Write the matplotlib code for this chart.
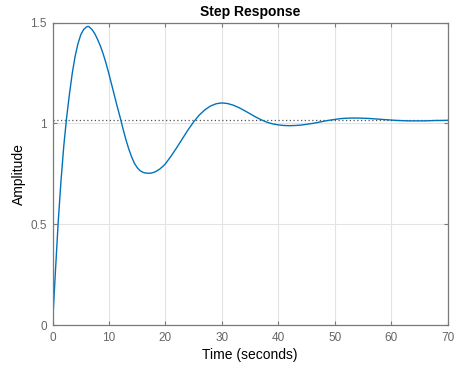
#! /usr/bin/env python3

"""Step response plot, MATLAB look"""

import matplotlib
matplotlib.use("Agg")
import matplotlib.pyplot as plt

time_s = [0, 0.5, 1, 1.5, 2, 2.5, 3, 3.5, 4, 4.5, 5, 5.5, 6, 6.3, 6.5, 7, 7.5, 8, 8.5, 9,
          9.5, 10, 10.5, 11, 11.5, 12, 12.5, 13, 13.5, 14, 14.5, 15, 15.5, 16, 16.5, 17,
          17.5, 18, 18.5, 19, 19.5, 20, 21, 22, 23, 24, 25, 26, 27, 28, 29,
          30, 31, 32, 33, 34, 35, 36, 37, 38, 39, 40, 41, 42, 43, 44, 45, 46, 47, 48, 49,
          50, 51, 52, 53, 54, 55, 56, 57, 58, 59, 60, 61, 62, 63, 64, 65, 66, 67, 68, 69, 70]
amplitude = [0, 0.258, 0.508, 0.715, 0.89, 1.03, 1.146, 1.25, 1.333, 1.395, 1.44, 1.466,
             1.479, 1.482, 1.479, 1.466, 1.445, 1.416, 1.383, 1.343, 1.297, 1.245, 1.19,
             1.135, 1.08, 1.028, 0.972, 0.92, 0.874, 0.835, 0.803, 0.781, 0.766, 0.758,
             0.754, 0.753, 0.754, 0.758, 0.765, 0.774, 0.786, 0.80, 0.838, 0.88, 0.924,
             0.968, 1.008, 1.042, 1.068, 1.087, 1.098, 1.102, 1.099, 1.091, 1.079, 1.064,
             1.048, 1.032, 1.018, 1.006, 0.998, 0.993, 0.99, 0.989, 0.99, 0.992, 0.996,
             1.0, 1.005, 1.011, 1.016, 1.02, 1.024, 1.026, 1.027, 1.027, 1.026, 1.025,
             1.023, 1.021, 1.019, 1.017, 1.015, 1.014, 1.013, 1.013, 1.013, 1.013, 1.014,
             1.015, 1.015, 1.016]
steady_state = 1.017

x_ticks = [0, 10, 20, 30, 40, 50, 60, 70]
y_ticks = [0, 0.5, 1, 1.5]
y_tick_labels = ["0", "0.5", "1", "1.5"]

plt.rcParams["font.family"] = ["Liberation Sans", "DejaVu Sans"]

fig = plt.figure(figsize=(4.74, 3.67), dpi=100)
ax = fig.add_axes([0.1108, 0.1144, 0.8337, 0.8237])

# grid behind everything
ax.grid(True, color="#e3e3e3", linewidth=0.8)
ax.set_axisbelow(True)

# steady-state value and the response itself
ax.plot([x_ticks[0], x_ticks[-1]], [steady_state, steady_state], linestyle=(0, (1, 2)),
        color="#555555", linewidth=0.9)
ax.plot(time_s, amplitude, color="#0072BD", linewidth=1.0)

ax.set_xlim(0, 70)
ax.set_ylim(0, 1.5)
ax.set_xticks(x_ticks)
ax.set_yticks(y_ticks)
ax.set_yticklabels(y_tick_labels)

ax.tick_params(direction="in", top=True, right=True, length=3, width=0.8,
               color="#7a7a7a", labelcolor="#666666", labelsize=8.5)
ax.tick_params(axis="x", pad=5)
ax.tick_params(axis="y", pad=4)
for spine in ax.spines.values():
    spine.set_color("#7a7a7a")
    spine.set_linewidth(0.9)

ax.set_title("Step Response", fontsize=10, fontweight="bold", pad=5)
ax.set_xlabel("Time (seconds)", fontsize=10, labelpad=3)
ax.set_ylabel("Amplitude", fontsize=10, labelpad=3)

fig.savefig("out.png", dpi=100)
